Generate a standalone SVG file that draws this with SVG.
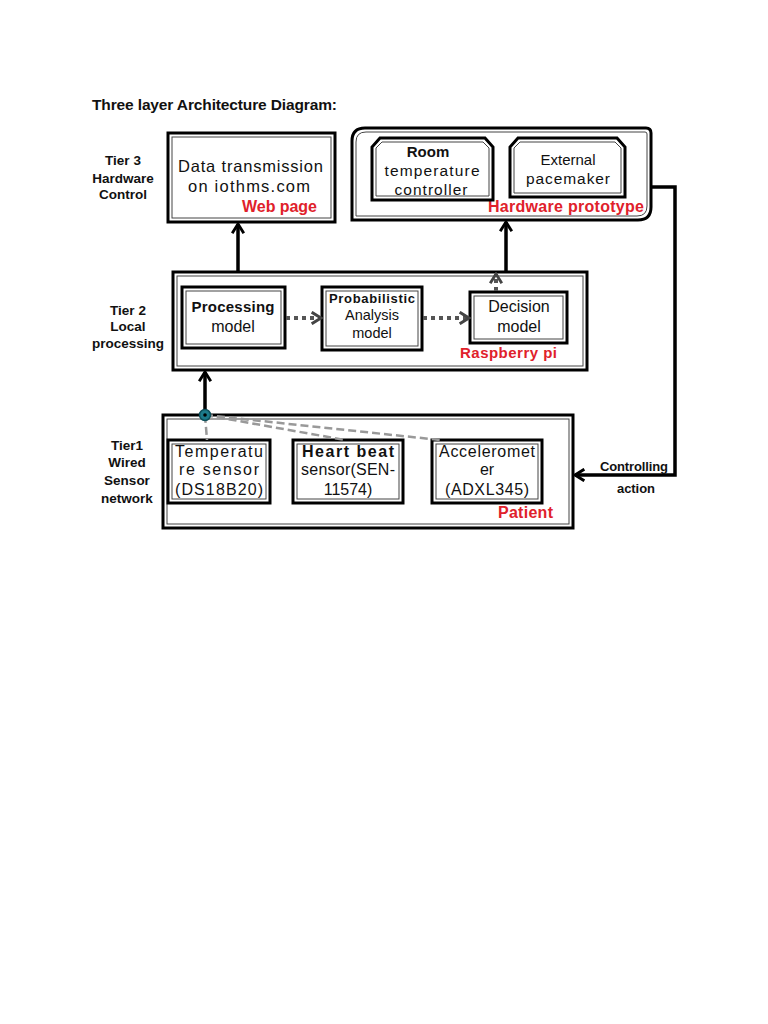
<svg xmlns="http://www.w3.org/2000/svg" width="768" height="1024" viewBox="0 0 768 1024">
<style>
.t{font-family:"Liberation Sans",Arial,sans-serif;fill:#111;}
.b{font-weight:bold;}
.red{fill:#e0212b;font-weight:bold;}
.lab{font-family:"Liberation Sans",Arial,sans-serif;font-weight:bold;font-size:13.5px;fill:#111;text-anchor:middle;}
.outer{fill:#fff;stroke:#000;stroke-width:3;}
.inner{fill:none;stroke:#444;stroke-width:1;}
.conn{fill:none;stroke:#000;stroke-width:3.5;}
.dot{fill:none;stroke:#555;stroke-width:4;stroke-dasharray:4 4;}
.dash{fill:none;stroke:#999;stroke-width:2.5;stroke-dasharray:8 4;}
</style>
<defs>
<marker id="chev" viewBox="0 0 12 12" refX="10" refY="6" markerWidth="14" markerHeight="14" orient="auto" markerUnits="userSpaceOnUse">
<path d="M2,1 L10,6 L2,11" fill="none" stroke="#000" stroke-width="2.5"/>
</marker>
<marker id="chevg" viewBox="0 0 12 12" refX="10" refY="6" markerWidth="14" markerHeight="14" orient="auto" markerUnits="userSpaceOnUse">
<path d="M2,1 L10,6 L2,11" fill="none" stroke="#444" stroke-width="2.5"/>
</marker>
</defs>
<rect width="768" height="1024" fill="#fff"/>

<text class="t b" x="92" y="110" font-size="15.5" textLength="245">Three layer Architecture Diagram:</text>

<g id="tier-labels">
<text class="lab" x="123" y="165">Tier 3</text>
<text class="lab" x="123" y="183">Hardware</text>
<text class="lab" x="123" y="199">Control</text>
<text class="lab" x="128" y="315">Tier 2</text>
<text class="lab" x="128" y="331">Local</text>
<text class="lab" x="128" y="348">processing</text>
<text class="lab" x="127" y="450">Tier1</text>
<text class="lab" x="127" y="467">Wired</text>
<text class="lab" x="127" y="485">Sensor</text>
<text class="lab" x="127" y="503">network</text>
</g>

<g id="webpage">
<rect class="outer" x="168" y="133" width="167" height="89"/>
<rect class="inner" x="172" y="137" width="159" height="81"/>
<text class="t" x="178" y="172" font-size="16.5" textLength="145">Data  transmission</text>
<text class="t" x="188" y="192" font-size="16.5" textLength="122">on iothms.com</text>
<text class="t red" x="242" y="212" font-size="16" textLength="75">Web page</text>
</g>

<g id="hardware-prototype">
<path class="outer" d="M352,220 L352,141 Q352,128 365,128 L646,128 Q651,128 651,133 L651,207 Q651,220 638,220 Z"/>
<path class="inner" d="M356,216 L356,142 Q356,132 366,132 L645,132 Q647,132 647,134 L647,206 Q647,216 637,216 Z"/>
<text class="t red" x="488" y="212" font-size="16" textLength="156">Hardware prototype</text>
</g>

<g id="room-controller">
<path class="outer" d="M372,200 L372,147 L380,138 L485,138 L493,147 L493,200 Z"/>
<path class="inner" d="M376,196 L376,148 L382,142 L483,142 L489,148 L489,196 Z"/>
<text class="t b" x="428" y="157" font-size="15" text-anchor="middle">Room</text>
<text class="t" x="432" y="176" font-size="15.5" text-anchor="middle" textLength="95">temperature</text>
<text class="t" x="431" y="195" font-size="15.5" text-anchor="middle" textLength="73">controller</text>
</g>

<g id="pacemaker">
<path class="outer" d="M510,197 L510,147 L518,138 L617,138 L625,147 L625,197 Z"/>
<path class="inner" d="M514,193 L514,148 L520,142 L615,142 L621,148 L621,193 Z"/>
<text class="t" x="568" y="165" font-size="15" text-anchor="middle">External</text>
<text class="t" x="568" y="184" font-size="15.5" text-anchor="middle" textLength="84">pacemaker</text>
</g>

<g id="raspberry-pi">
<rect class="outer" x="173" y="272" width="414" height="98"/>
<rect class="inner" x="177" y="276" width="406" height="90"/>
<text class="t red" x="460" y="358" font-size="15" textLength="97">Raspberry pi</text>
</g>

<g id="processing-model">
<rect class="outer" x="182" y="287" width="103" height="61"/>
<rect class="inner" x="186" y="291" width="95" height="53"/>
<text class="t b" x="233" y="312" font-size="15" text-anchor="middle" textLength="83">Processing</text>
<text class="t" x="233" y="332" font-size="16" text-anchor="middle">model</text>
</g>

<g id="probabilistic-model">
<rect class="outer" x="322" y="287" width="100" height="63"/>
<rect class="inner" x="326" y="291" width="92" height="55"/>
<text class="t b" x="372" y="303" font-size="13" text-anchor="middle" textLength="86">Probabilistic</text>
<text class="t" x="372" y="320" font-size="14.5" text-anchor="middle">Analysis</text>
<text class="t" x="372" y="338" font-size="14.5" text-anchor="middle">model</text>
</g>

<g id="decision-model">
<rect class="outer" x="470" y="292" width="97" height="51"/>
<rect class="inner" x="474" y="296" width="89" height="43"/>
<text class="t" x="519" y="312" font-size="16" text-anchor="middle">Decision</text>
<text class="t" x="519" y="332" font-size="16" text-anchor="middle">model</text>
</g>

<g id="patient">
<rect class="outer" x="163" y="415" width="410" height="113"/>
<rect class="inner" x="167" y="419" width="402" height="105"/>
<text class="t red" x="498" y="518" font-size="16" textLength="55">Patient</text>
</g>

<g id="temperature-sensor">
<rect class="outer" x="168" y="440" width="102" height="63"/>
<rect class="inner" x="172" y="444" width="94" height="55"/>
<text class="t" x="219" y="457" font-size="16" text-anchor="middle" textLength="88">Temperatu</text>
<text class="t" x="219" y="475" font-size="16" text-anchor="middle" textLength="80">re sensor</text>
<text class="t" x="219" y="495" font-size="16" text-anchor="middle" textLength="88">(DS18B20)</text>
</g>

<g id="heartbeat-sensor">
<rect class="outer" x="293" y="440" width="110" height="63"/>
<rect class="inner" x="297" y="444" width="102" height="55"/>
<text class="t b" x="348" y="457" font-size="16" text-anchor="middle" textLength="92">Heart beat</text>
<text class="t" x="348" y="475" font-size="16" text-anchor="middle" textLength="94">sensor(SEN-</text>
<text class="t" x="348" y="495" font-size="16" text-anchor="middle">11574)</text>
</g>

<g id="accelerometer">
<rect class="outer" x="432" y="440" width="110" height="63"/>
<rect class="inner" x="436" y="444" width="102" height="55"/>
<text class="t" x="487" y="457" font-size="16" text-anchor="middle" textLength="96">Acceleromet</text>
<text class="t" x="487" y="475" font-size="16" text-anchor="middle">er</text>
<text class="t" x="487" y="495" font-size="16" text-anchor="middle" textLength="84">(ADXL345)</text>
</g>

<g id="connectors">
<line class="conn" x1="238" y1="272" x2="238" y2="224" marker-end="url(#chev)"/>
<line class="conn" x1="506" y1="272" x2="506" y2="222" marker-end="url(#chev)"/>
<line class="dot" x1="496" y1="291" x2="496" y2="274" stroke-dasharray="4 3" marker-end="url(#chevg)"/>
<line class="dot" x1="286" y1="318" x2="321" y2="318" marker-end="url(#chevg)"/>
<line class="dot" x1="423" y1="318" x2="469" y2="318" marker-end="url(#chevg)"/>
<line class="conn" x1="205" y1="415" x2="205" y2="372" marker-end="url(#chev)"/>
<polyline class="conn" points="651,187 675,187 675,475 575,475" marker-end="url(#chev)"/>
<line class="dash" x1="205" y1="415" x2="207" y2="440"/>
<line class="dash" x1="205" y1="415" x2="345" y2="440"/>
<line class="dash" x1="205" y1="415" x2="440" y2="440"/>
<circle cx="205" cy="415" r="5.5" fill="#1c7a8a" stroke="#0d4f5a" stroke-width="1.5"/>
<circle cx="205" cy="415" r="1.8" fill="#000"/>
<text class="t b" x="600" y="471" font-size="13" textLength="68">Controlling</text>
<text class="t b" x="617" y="493" font-size="13" textLength="38">action</text>
</g>
</svg>
